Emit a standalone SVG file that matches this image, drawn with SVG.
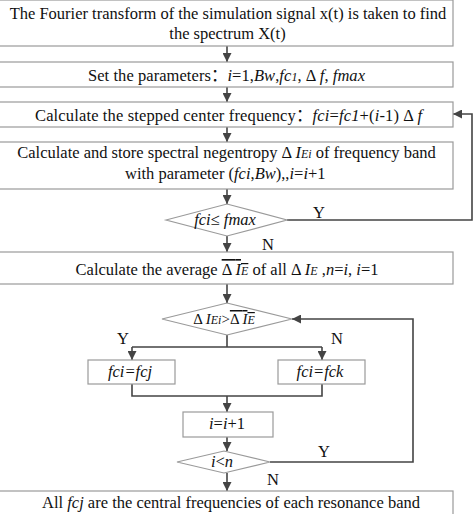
<svg xmlns="http://www.w3.org/2000/svg" width="474" height="514" viewBox="0 0 474 514">
<defs>
<style>
.box{fill:#fff;stroke:#9a9a9a;stroke-width:1.2}
.dia{fill:#fff;stroke:#9a9a9a;stroke-width:1.2}
.t{font-family:"Liberation Serif","Noto Sans CJK SC",serif;font-size:16.5px;fill:#111}
.m{text-anchor:middle}
.it{font-style:italic}
.sm{font-size:12px}
.ln{fill:none;stroke:#444;stroke-width:1.6}
.ol{text-decoration:overline}
</style>
<marker id="ah" viewBox="0 0 10 10" refX="10" refY="5" markerWidth="9" markerHeight="9" markerUnits="userSpaceOnUse" orient="auto">
<path d="M0,0 L10,5 L0,10 z" fill="#444"/>
</marker>
</defs>
<rect width="474" height="514" fill="#fff"/>

<g id="connectors">
<path class="ln" d="M227,46 V62" marker-end="url(#ah)"/>
<path class="ln" d="M227,87 V102" marker-end="url(#ah)"/>
<path class="ln" d="M227,127 V142" marker-end="url(#ah)"/>
<path class="ln" d="M227,189 V204" marker-end="url(#ah)"/>
<path class="ln" d="M287,220 H472 V114 H453" marker-end="url(#ah)"/>
<path class="ln" d="M227,236 V252" marker-end="url(#ah)"/>
<path class="ln" d="M227,284 V303" marker-end="url(#ah)"/>
<path class="ln" d="M227,335 V347 M132,347 H322"/>
<path class="ln" d="M132,347 V360" marker-end="url(#ah)"/>
<path class="ln" d="M322,347 V360" marker-end="url(#ah)"/>
<path class="ln" d="M132,384 V396 H322 V384"/>
<path class="ln" d="M227,396 V412" marker-end="url(#ah)"/>
<path class="ln" d="M227,437 V451" marker-end="url(#ah)"/>
<path class="ln" d="M270,462 H413 V319 H292" marker-end="url(#ah)"/>
<path class="ln" d="M227,473 V491" marker-end="url(#ah)"/>
</g>

<g id="n1">
<rect class="box" x="-2" y="0" width="455" height="46"/>
<text class="t m" x="228" y="19">The Fourier transform of the simulation signal x(t) is taken to find</text>
<text class="t m" x="227.5" y="39">the spectrum X(t)</text>
</g>

<g id="n2">
<rect class="box" x="-2" y="62" width="455" height="25"/>
<text class="t" x="88" y="81" textLength="277" lengthAdjust="spacing">Set the parameters：<tspan class="it">i</tspan>=1,<tspan class="it">Bw</tspan>,<tspan class="it">fc<tspan class="sm">1</tspan></tspan>, Δ <tspan class="it">f</tspan>, <tspan class="it">fmax</tspan></text>
</g>

<g id="n3">
<rect class="box" x="-2" y="102" width="455" height="25"/>
<text class="t" x="35" y="121" textLength="387" lengthAdjust="spacing">Calculate the stepped center frequency：<tspan class="it">fci</tspan>=<tspan class="it">fc1</tspan>+(<tspan class="it">i</tspan>-1) Δ <tspan class="it">f</tspan></text>
</g>

<g id="n4">
<rect class="box" x="-2" y="142" width="455" height="47"/>
<text class="t m" x="226.5" y="158">Calculate and store spectral negentropy  Δ <tspan class="it">I<tspan class="sm">Ei</tspan></tspan> of frequency band</text>
<text class="t" x="125" y="179">with parameter (<tspan class="it">fci</tspan>,<tspan class="it">Bw</tspan>),,<tspan class="it">i</tspan>=<tspan class="it">i</tspan>+1</text>
</g>

<g id="d1">
<polygon class="dia" points="166,220 227,204 287,220 227,236"/>
<text class="t m it" x="225" y="225">fci≤ fmax</text>
<text class="t" x="313" y="218">Y</text>
<text class="t" x="262" y="250">N</text>
</g>

<g id="n5">
<rect class="box" x="-2" y="252" width="455" height="32"/>
<text class="t m" x="227" y="275">Calculate the average <tspan class="ol">Δ <tspan class="it">I<tspan class="sm">E</tspan></tspan></tspan> of all Δ <tspan class="it">I<tspan class="sm">E</tspan></tspan> ,<tspan class="it">n</tspan>=<tspan class="it">i</tspan>, <tspan class="it">i</tspan>=1</text>
</g>

<g id="d2">
<polygon class="dia" points="162,319 227,303 292,319 227,335"/>
<text class="t m" x="224" y="324" style="font-size:15px">Δ <tspan class="it">I<tspan style="font-size:12px">Ei</tspan></tspan>&gt;<tspan class="ol">Δ <tspan class="it">I<tspan style="font-size:12px">E</tspan></tspan></tspan></text>
<text class="t" x="117" y="344">Y</text>
<text class="t" x="331" y="344">N</text>
</g>

<g id="n6">
<rect class="box" x="88" y="360" width="87" height="24"/>
<text class="t m it" x="130" y="377">fci=fcj</text>
</g>

<g id="n7">
<rect class="box" x="278" y="360" width="87" height="24"/>
<text class="t m it" x="320" y="377">fci=fck</text>
</g>

<g id="n8">
<rect class="box" x="183" y="412" width="90" height="25"/>
<text class="t m" x="227" y="429"><tspan class="it">i</tspan>=<tspan class="it">i</tspan>+1</text>
</g>

<g id="d3">
<polygon class="dia" points="177,462 224,451 270,462 224,473"/>
<text class="t m" x="222" y="467"><tspan class="it">i</tspan>&lt;<tspan class="it">n</tspan></text>
<text class="t" x="318" y="457">Y</text>
<text class="t" x="267" y="485">N</text>
</g>

<g id="n9">
<rect class="box" x="-2" y="491" width="455" height="26"/>
<text class="t m" x="231" y="508">All <tspan class="it">fcj</tspan> are the central frequencies of each resonance band</text>
</g>
</svg>
